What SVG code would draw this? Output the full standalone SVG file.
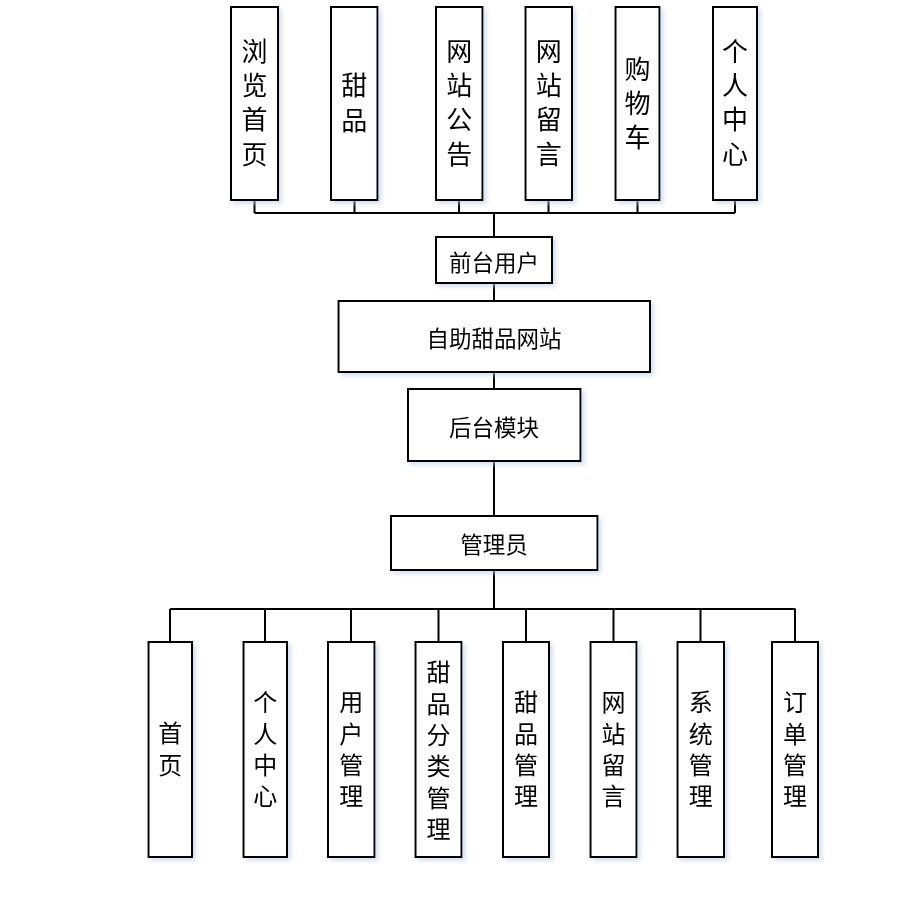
<svg xmlns="http://www.w3.org/2000/svg" width="921" height="904" viewBox="0 0 921 904">
<style>
.box{fill:#fff;stroke:#000;stroke-width:2}
.ln{fill:none;stroke:#000;stroke-width:2}
.vt{font-family:"Noto Sans CJK SC","Noto Sans",sans-serif;font-size:26px;fill:#000;writing-mode:vertical-rl;text-orientation:upright;letter-spacing:8.3px}
.vb{font-family:"Noto Sans CJK SC","Noto Sans",sans-serif;font-size:24px;fill:#000;writing-mode:vertical-rl;text-orientation:upright;letter-spacing:7.4px}
.ht{font-family:"Noto Sans CJK SC","Noto Sans",sans-serif;font-size:22.5px;fill:#000;text-anchor:middle;dominant-baseline:central}
</style>
<defs>
<filter id="sh" x="-20%" y="-20%" width="140%" height="140%">
<feDropShadow dx="3" dy="3" stdDeviation="2" flood-color="#b8cde6" flood-opacity="0.6"/>
</filter>
</defs>
<rect width="921" height="904" fill="#fff"/>
<g id="connectors">
<path class="ln" d="M254.5,200V213M354.5,200V213M459,200V213M548.5,200V213M637.5,200V213M735,200V213M254.5,213H735M494,213V237"/>
<path class="ln" d="M494,283V301M494,372V389M494,461V516"/>
<path class="ln" d="M494,570V609M170,609H795.5M170,609V642M265,609V642M351,609V642M438.5,609V642M526,609V642M613.5,609V642M700.5,609V642M795,609V642"/>
</g>
<g filter="url(#sh)">
<g id="n-browse"><rect class="box" x="231" y="7" width="47" height="193"/><text class="vt" x="254.5" y="38">浏览首页</text></g>
<g id="n-dessert"><rect class="box" x="331" y="7" width="46.5" height="193"/><text class="vt" x="354.3" y="72.5">甜品</text></g>
<g id="n-notice"><rect class="box" x="436" y="7" width="46.5" height="193"/><text class="vt" x="459.3" y="38">网站公告</text></g>
<g id="n-message"><rect class="box" x="525.5" y="7" width="46.5" height="193"/><text class="vt" x="548.8" y="38">网站留言</text></g>
<g id="n-cart"><rect class="box" x="615.5" y="7" width="44" height="193"/><text class="vt" x="637.5" y="56">购物车</text></g>
<g id="n-personal"><rect class="box" x="713" y="7" width="44" height="193"/><text class="vt" x="735" y="38">个人中心</text></g>
<g id="n-front"><rect class="box" x="436" y="237" width="116" height="46"/><text class="ht" x="494" y="261">前台用户</text></g>
<g id="n-site"><rect class="box" x="338.5" y="301" width="311.5" height="71"/><text class="ht" x="494" y="337">自助甜品网站</text></g>
<g id="n-back"><rect class="box" x="408" y="389" width="172.5" height="72"/><text class="ht" x="494" y="425.5">后台模块</text></g>
<g id="n-admin"><rect class="box" x="391" y="516" width="206.5" height="54"/><text class="ht" x="494" y="543">管理员</text></g>
<g id="b-home"><rect class="box" x="148.5" y="642" width="43.5" height="215"/><text class="vb" x="170.2" y="721">首页</text></g>
<g id="b-personal"><rect class="box" x="243.5" y="642" width="43.5" height="215"/><text class="vb" x="265.2" y="690">个人中心</text></g>
<g id="b-user"><rect class="box" x="328" y="642" width="46.5" height="215"/><text class="vb" x="351.2" y="690">用户管理</text></g>
<g id="b-category"><rect class="box" x="415.5" y="642" width="46" height="215"/><text class="vb" x="438.5" y="660">甜品分类管理</text></g>
<g id="b-dessert"><rect class="box" x="503" y="642" width="46" height="215"/><text class="vb" x="526" y="690">甜品管理</text></g>
<g id="b-message"><rect class="box" x="590.5" y="642" width="46" height="215"/><text class="vb" x="613.5" y="690">网站留言</text></g>
<g id="b-system"><rect class="box" x="677.5" y="642" width="46.5" height="215"/><text class="vb" x="700.7" y="690">系统管理</text></g>
<g id="b-order"><rect class="box" x="772" y="642" width="46" height="215"/><text class="vb" x="795" y="690">订单管理</text></g>
</g>
</svg>
